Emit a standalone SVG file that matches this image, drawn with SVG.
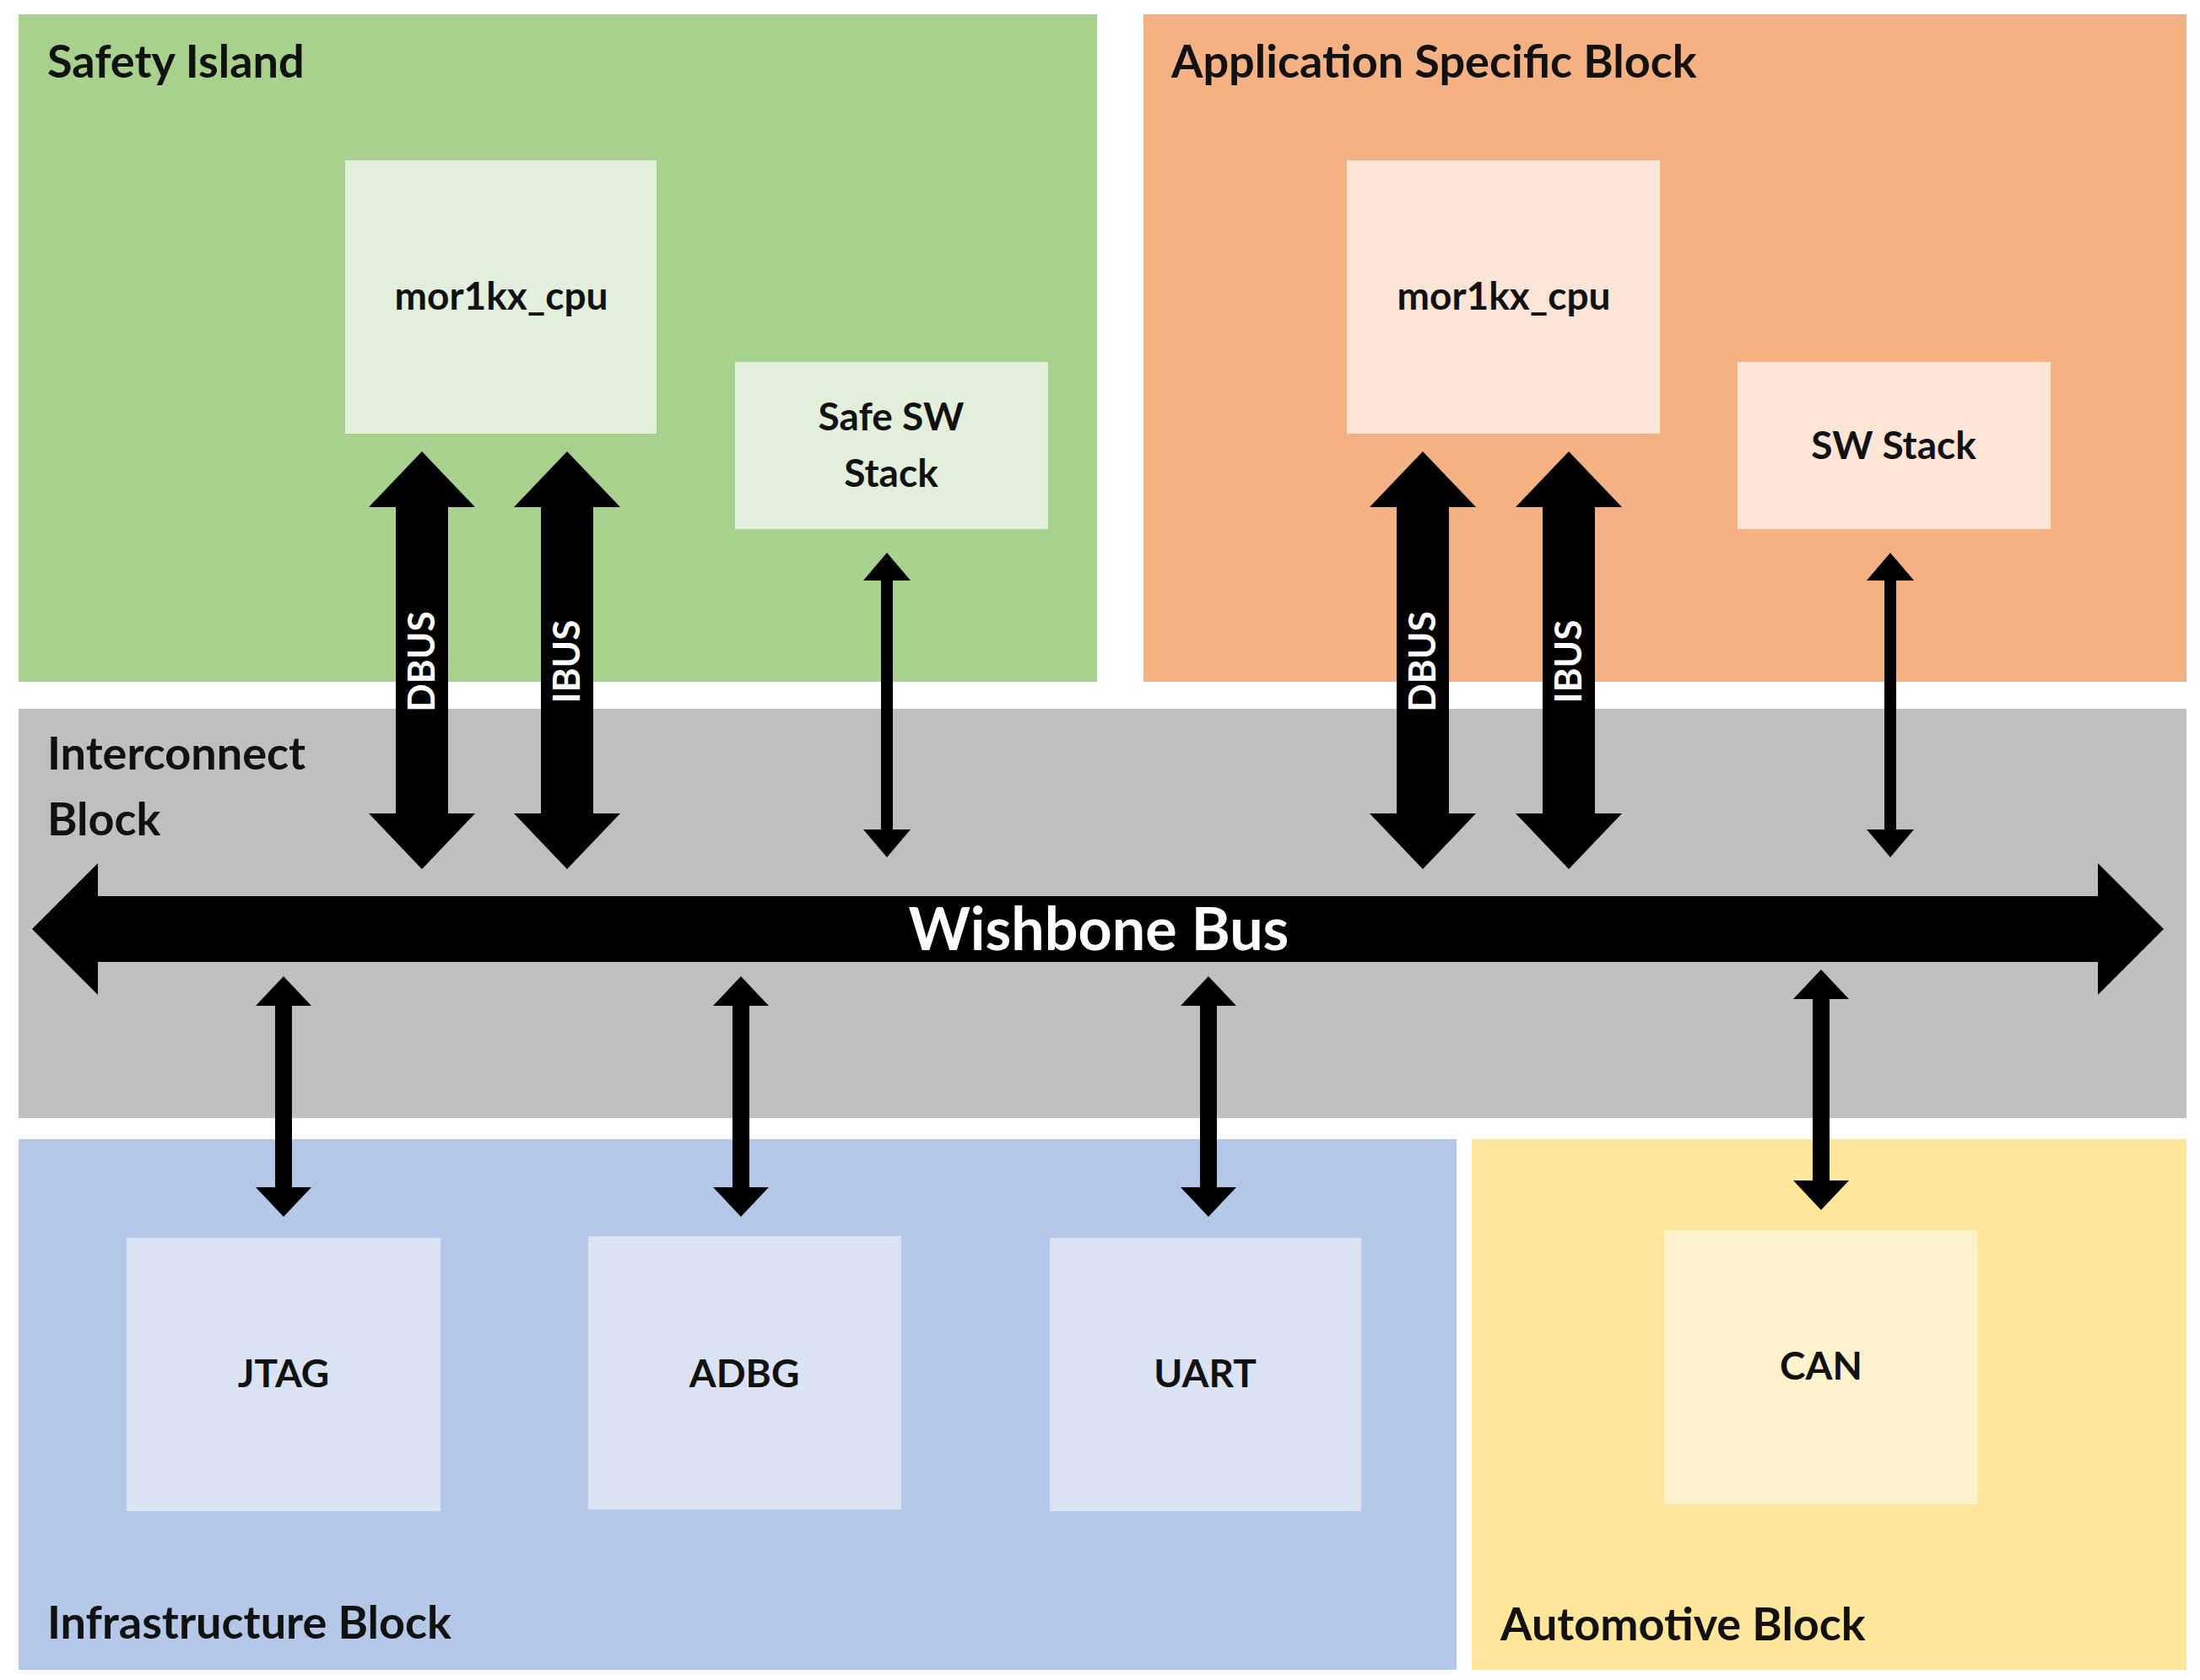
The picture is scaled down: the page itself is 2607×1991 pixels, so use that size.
<svg xmlns="http://www.w3.org/2000/svg" width="2607" height="1991" viewBox="0 0 2607 1991">
<style>
.t{font-family:Lato,"Open Sans",sans-serif;font-weight:bold;fill:#111}
.bt{font-size:54px}
.nt{font-size:46px;text-anchor:middle}
.w{font-family:Lato,"Open Sans",sans-serif;font-weight:bold;fill:#fff;text-anchor:middle}
</style>
<rect width="2607" height="1991" fill="#fff"/>
<g id="safety"><rect x="22" y="17" width="1278" height="791" fill="#A9D18E"/><text class="t bt" x="56" y="92">Safety Island</text></g>
<g id="app"><rect x="1355" y="17" width="1236" height="791" fill="#F4B183"/><text class="t bt" x="1388" y="92">Application Specific Block</text></g>
<g id="interconnect"><rect x="22" y="840" width="2569" height="485" fill="#BFBFBF"/><text class="t bt" x="56" y="912">Interconnect</text><text class="t bt" x="56" y="990">Block</text></g>
<g id="infra"><rect x="22" y="1350" width="1704" height="629" fill="#B4C7E7"/><text class="t bt" x="56" y="1942">Infrastructure Block</text></g>
<g id="auto"><rect x="1744" y="1350" width="847" height="629" fill="#FFE699"/><text class="t bt" x="1778" y="1944">Automotive Block</text></g>
<g id="cpu1"><rect x="409" y="190" width="369" height="324" fill="#E2EFDA"/><text class="t nt" x="594" y="367">mor1kx_cpu</text></g>
<g id="safesw"><rect x="871" y="429" width="371" height="198" fill="#E2EFDA"/><text class="t nt" x="1056" y="510">Safe SW</text><text class="t nt" x="1056" y="577">Stack</text></g>
<g id="cpu2"><rect x="1596" y="190" width="371" height="324" fill="#FBE5D6"/><text class="t nt" x="1782" y="367">mor1kx_cpu</text></g>
<g id="swstack"><rect x="2059" y="429" width="371" height="198" fill="#FBE5D6"/><text class="t nt" x="2244" y="544">SW Stack</text></g>
<g id="jtag"><rect x="150" y="1467" width="372" height="324" fill="#DAE3F3"/><text class="t nt" x="336" y="1644">JTAG</text></g>
<g id="adbg"><rect x="697" y="1465" width="371" height="324" fill="#DAE3F3"/><text class="t nt" x="882" y="1644">ADBG</text></g>
<g id="uart"><rect x="1244" y="1467" width="369" height="324" fill="#DAE3F3"/><text class="t nt" x="1428" y="1644">UART</text></g>
<g id="can"><rect x="1972" y="1458" width="371" height="325" fill="#FFF2CC"/><text class="t nt" x="2158" y="1635">CAN</text></g>
<g id="connectors" fill="#000">
<path d="M38 1101 L116 1023 L116 1062 L2486 1062 L2486 1023 L2564 1101 L2486 1179 L2486 1140 L116 1140 L116 1179 Z"/>
<text class="w" x="1302" y="1126" font-size="70">Wishbone Bus</text>
<path id="big" d="M0 535 L63 601 L31 601 L31 964 L63 964 L0 1030 L-63 964 L-31 964 L-31 601 L-63 601 Z" transform="translate(500 0)"/>
<use href="#big" transform="translate(172 0)"/>
<use href="#big" transform="translate(1186 0)"/>
<use href="#big" transform="translate(1359 0)"/>
<text class="w" font-size="44" transform="translate(515 784) rotate(-90)">DBUS</text>
<text class="w" font-size="44" transform="translate(687 784) rotate(-90)">IBUS</text>
<text class="w" font-size="44" transform="translate(1701 784) rotate(-90)">DBUS</text>
<text class="w" font-size="44" transform="translate(1874 784) rotate(-90)">IBUS</text>
<path id="sm" d="M0 655 L28 688 L7 688 L7 983 L28 983 L0 1016 L-28 983 L-7 983 L-7 688 L-28 688 Z" transform="translate(1051 0)"/>
<use href="#sm" transform="translate(1189 0)"/>
<path id="bm" d="M0 1157 L33 1192 L10 1192 L10 1407 L33 1407 L0 1442 L-33 1407 L-10 1407 L-10 1192 L-33 1192 Z" transform="translate(336 0)"/>
<use href="#bm" transform="translate(542 0)"/>
<use href="#bm" transform="translate(1096 0)"/>
<use href="#bm" transform="translate(1822 -8)"/>
</g>
</svg>
